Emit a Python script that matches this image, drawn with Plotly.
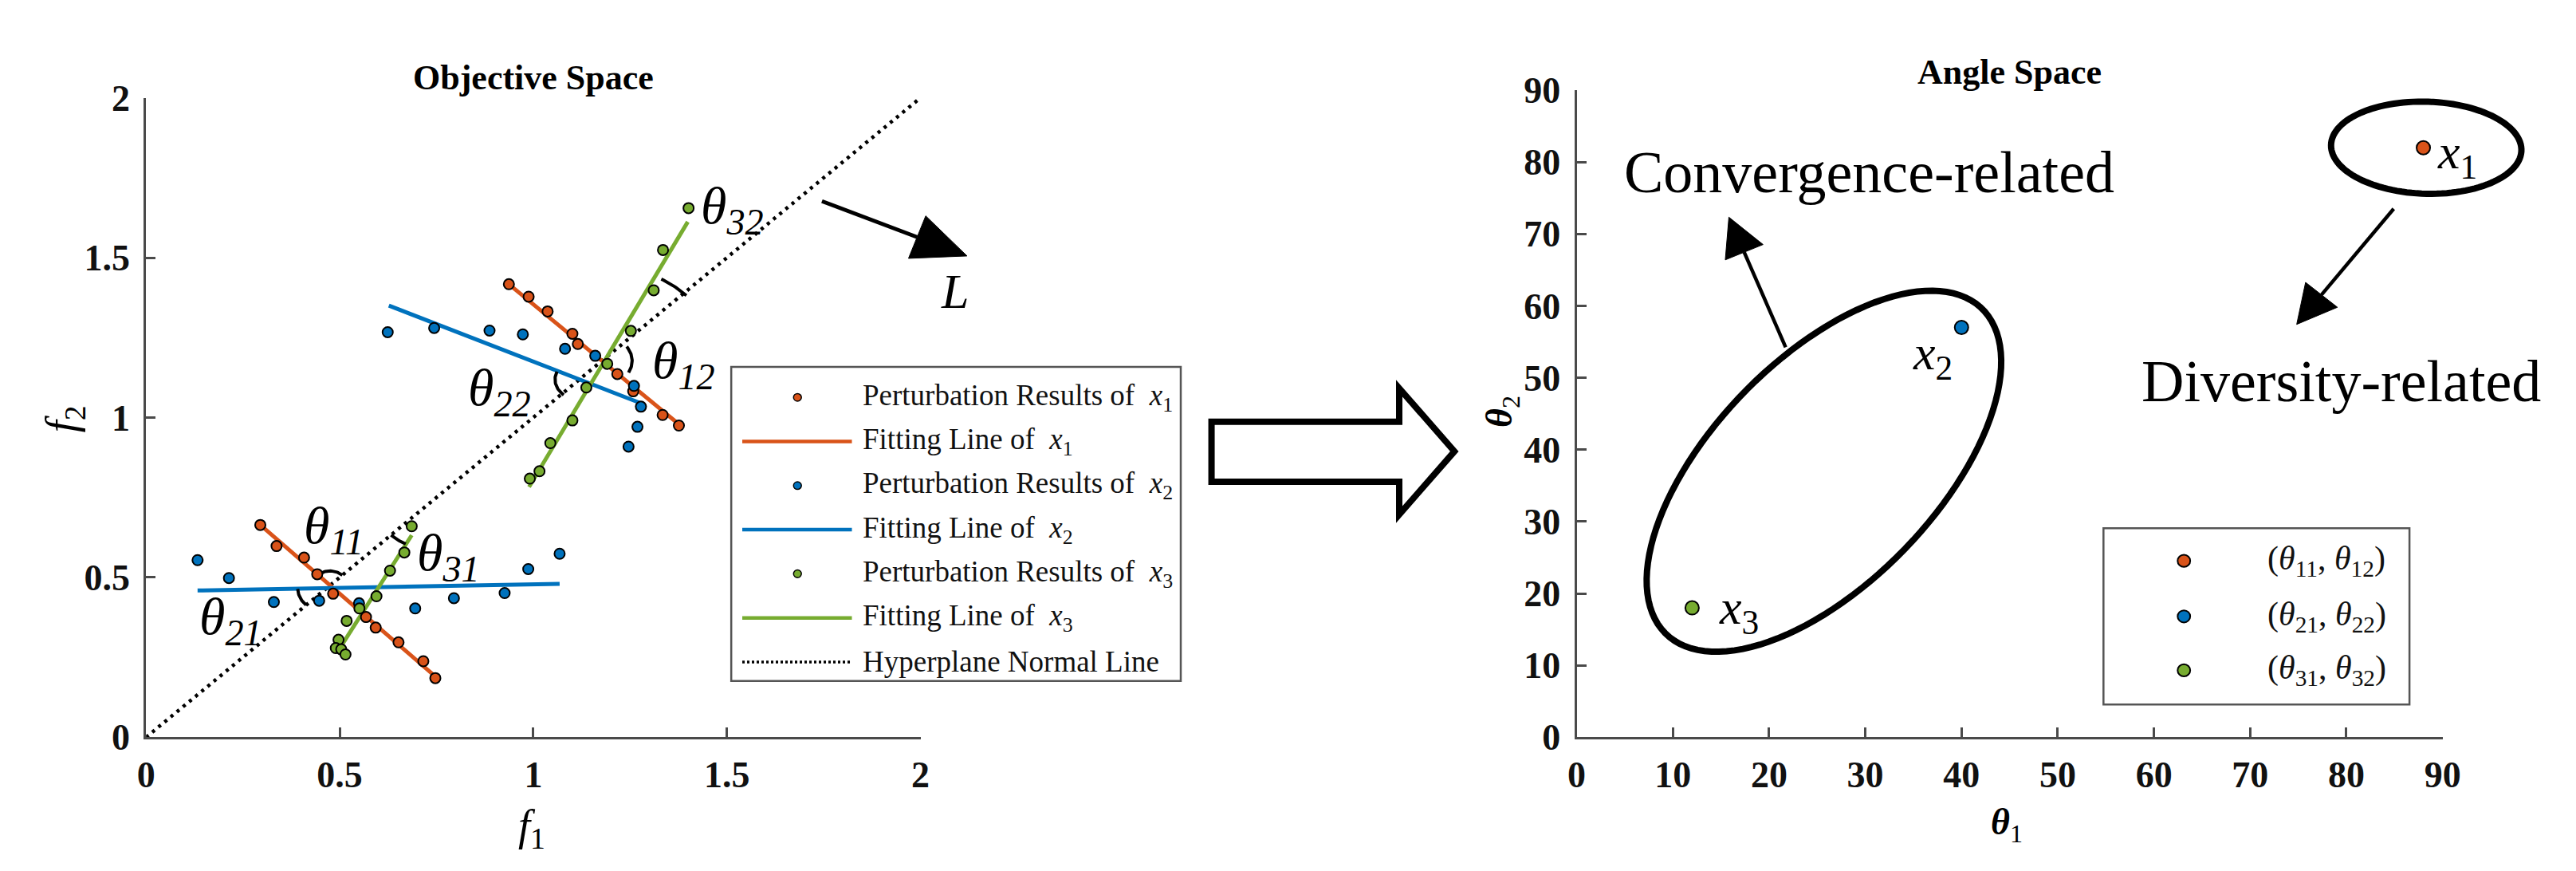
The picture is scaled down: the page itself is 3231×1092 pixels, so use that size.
import numpy as np
import plotly.graph_objects as go

PW, PH = 3231, 1092
OFF = 0
W, H = PW - 2 * OFF, PH - 2 * OFF
ORANGE, BLUE, GREEN = "#D95319", "#0072BD", "#77AC30"
SERIF = "Liberation Serif, Times New Roman, serif"
AXC = "#4a4a4a"

# ---------------- Left panel: Objective Space ----------------
x1_f1 = [0.295, 0.337, 0.408, 0.442, 0.483, 0.568, 0.593, 0.652, 0.716, 0.747,
         0.937, 0.988, 1.037, 1.101, 1.115, 1.217, 1.258, 1.334, 1.376]
x1_f2 = [0.664, 0.598, 0.562, 0.510, 0.449, 0.376, 0.343, 0.297, 0.238, 0.185,
         1.417, 1.378, 1.332, 1.262, 1.230, 1.136, 1.082, 1.008, 0.975]
x2_f1 = [0.133, 0.214, 0.330, 0.447, 0.550, 0.695, 0.795, 0.926, 0.987, 1.068,
         0.624, 0.744, 0.887, 0.973, 1.082, 1.160, 1.260, 1.278, 1.269, 1.246]
x2_f2 = [0.554, 0.498, 0.423, 0.427, 0.419, 0.403, 0.435, 0.451, 0.526, 0.574,
         1.267, 1.280, 1.272, 1.260, 1.215, 1.193, 1.099, 1.034, 0.971, 0.909]
x3_f1 = [0.497, 0.490, 0.504, 0.515, 0.518, 0.551, 0.595, 0.630, 0.667, 0.686,
         0.991, 1.016, 1.044, 1.101, 1.137, 1.191, 1.252, 1.311, 1.335, 1.401]
x3_f2 = [0.305, 0.279, 0.275, 0.259, 0.364, 0.403, 0.441, 0.521, 0.578, 0.660,
         0.809, 0.832, 0.920, 0.991, 1.094, 1.168, 1.271, 1.398, 1.524, 1.655]

# fitting-line end points (two fitted segments for each solution)
fit1_f1 = [0.295, 0.750, None, 0.937, 1.380]
fit1_f2 = [0.664, 0.187, None, 1.417, 0.975]
fit2_f1 = [0.133, 1.068, None, 0.627, 1.275]
fit2_f2 = [0.459, 0.480, None, 1.350, 1.046]
fit3_f1 = [0.507, 0.686, None, 0.989, 1.399]
fit3_f2 = [0.291, 0.632, None, 0.783, 1.612]
normal_f1 = [0, 2]
normal_f2 = [0, 2]

# ---------------- Right panel: Angle Space ----------------
theta1 = [88, 40, 12]
theta2 = [82, 57, 18]
point_labels = ["<i>x</i><sub>1</sub>", "<i>x</i><sub>2</sub>", "<i>x</i><sub>3</sub>"]
angle_legend = ["(<i>θ</i><sub>11</sub>, <i>θ</i><sub>12</sub>)",
                "(<i>θ</i><sub>21</sub>, <i>θ</i><sub>22</sub>)",
                "(<i>θ</i><sub>31</sub>, <i>θ</i><sub>32</sub>)"]

# ---------------- geometry (page pixels) ----------------
LX0, LX1, LY0, LY1 = 165, 1147, 94, 935
RX0, RX1, RY0, RY1 = 1979, 3077, 84, 935


def pap(px, py):
    return (px - OFF) / W, 1 - (py - OFF) / H


def rpx(x, y):
    return RX0 + x / 90 * (RX1 - RX0), RY1 - y / 90 * (RY1 - RY0)


fig = go.Figure()

# diagonal
fig.add_trace(go.Scatter(x=normal_f1, y=normal_f2, mode="lines",
                         line=dict(color="black", width=4.5, dash="4px,6px"),
                         xaxis="x", yaxis="y", hoverinfo="skip"))
for fx, fy, c in [(fit1_f1, fit1_f2, ORANGE), (fit2_f1, fit2_f2, BLUE), (fit3_f1, fit3_f2, GREEN)]:
    fig.add_trace(go.Scatter(x=fx, y=fy, mode="lines", line=dict(color=c, width=5),
                             xaxis="x", yaxis="y", connectgaps=False))

# angle arcs: centered at intersection of each fitted segment with the diagonal
arcs = [  # (fit index, segment, radius, start deg, end deg)
    (0, 0, 0.045, 45, 134),
    (1, 0, 0.075, 182, 225),
    (2, 0, 0.16, 225, 242),
    (0, 1, 0.078, -28, 35),
    (1, 1, 0.063, 157, 230),
    (2, 1, 0.28, 43, 60),
]
fits = [(fit1_f1, fit1_f2), (fit2_f1, fit2_f2), (fit3_f1, fit3_f2)]
for fi, seg, r, a0, a1 in arcs:
    fx, fy = fits[fi]
    i = seg * 3
    xa, xb, ya, yb = fx[i], fx[i + 1], fy[i], fy[i + 1]
    s = (yb - ya) / (xb - xa)
    xi = (ya - s * xa) / (1 - s)
    t = np.radians(np.linspace(a0, a1, 30))
    fig.add_trace(go.Scatter(x=xi + r * np.cos(t), y=xi + r * np.sin(t), mode="lines",
                             line=dict(color="black", width=4), xaxis="x", yaxis="y"))

for fx, fy, c in [(x1_f1, x1_f2, ORANGE), (x2_f1, x2_f2, BLUE), (x3_f1, x3_f2, GREEN)]:
    fig.add_trace(go.Scatter(x=fx, y=fy, mode="markers",
                             marker=dict(color=c, size=13, line=dict(color="black", width=2)),
                             xaxis="x", yaxis="y", cliponaxis=False))

# right panel points
fig.add_trace(go.Scatter(x=theta1, y=theta2, mode="markers",
                         marker=dict(color=[ORANGE, BLUE, GREEN], size=17,
                                     line=dict(color="black", width=2)),
                         xaxis="x2", yaxis="y2", cliponaxis=False))

shapes = []
annots = []


def ann(x, y, text, size, xref="paper", yref="paper", xanchor="center", yanchor="middle",
        angle=0, color="black"):
    if xref == "paper":
        x, y = pap(x, y)
    annots.append(dict(xref=xref, yref=yref, x=x, y=y, text=text, showarrow=False,
                       xanchor=xanchor, yanchor=yanchor, textangle=angle,
                       font=dict(family=SERIF, size=size, color=color)))


def path_of(points, close=True):
    pts = [pap(*p) for p in points]
    return "M " + " L ".join(f"{u:.5f},{v:.5f}" for u, v in pts) + (" Z" if close else "")


# ellipses in right panel
def ellipse(cx, cy, a, b, phi):
    t = np.linspace(0, 2 * np.pi, 120)
    p = np.radians(phi)
    xs = cx + a * np.cos(t) * np.cos(p) - b * np.sin(t) * np.sin(p)
    ys = cy + a * np.cos(t) * np.sin(p) + b * np.sin(t) * np.cos(p)
    return dict(type="path", xref="paper", yref="paper",
                path=path_of([rpx(x, y) for x, y in zip(xs, ys)]),
                line=dict(color="black", width=8))

shapes.append(ellipse(25.7, 37, 28.3, 13.0, 58.7))
shapes.append(ellipse(88.3, 82, 9.9, 6.4, -3))


def arrow(x0, y0, x1, y1, hl, hw, lw):
    d = np.array([x1 - x0, y1 - y0], float)
    u = d / np.hypot(*d)
    n = np.array([-u[1], u[0]])
    base = np.array([x1, y1]) - u * hl
    a = base + n * hw
    b = base - n * hw
    return [dict(type="path", xref="paper", yref="paper", path=path_of([(x0, y0), base], close=False),
                 line=dict(color="black", width=lw)),
            dict(type="path", xref="paper", yref="paper", path=path_of([(x1, y1), a, b]),
                 fillcolor="black", line=dict(color="black", width=1))]

shapes += arrow(1022, 230, 1206, 302, 68, 30, 5)
shapes += arrow(2244, 422, 2172, 251, 50, 26, 4.5)
shapes += arrow(3015, 240, 2892, 392, 50, 26, 4.5)

# big hollow arrow
hollow = [(1516, 520), (1754, 520), (1754, 476), (1824, 559), (1754, 642), (1754, 599), (1516, 599)]
shapes.append(dict(type="path", xref="paper", yref="paper", path=path_of(hollow),
                   line=dict(color="black", width=8)))

# left legend (manual)
bx0, by0, bx1, by1 = 907, 448, 1477, 861
(px0, py0), (px1, py1) = pap(bx0, by0), pap(bx1, by1)
shapes.append(dict(type="rect", xref="paper", yref="paper", x0=px0, y0=py0, x1=px1, y1=py1,
                   line=dict(color="#555555", width=2.5), fillcolor="white", layer="above"))
leg_rows = [488, 546, 604, 662, 720, 778, 836]
leg_items = [("m", ORANGE, "Perturbation Results of  <i>x</i><sub>1</sub>"),
             ("l", ORANGE, "Fitting Line of  <i>x</i><sub>1</sub>"),
             ("m", BLUE, "Perturbation Results of  <i>x</i><sub>2</sub>"),
             ("l", BLUE, "Fitting Line of  <i>x</i><sub>2</sub>"),
             ("m", GREEN, "Perturbation Results of  <i>x</i><sub>3</sub>"),
             ("l", GREEN, "Fitting Line of  <i>x</i><sub>3</sub>"),
             ("d", "black", "Hyperplane Normal Line")]
for yy, (kind, col, txt) in zip(leg_rows, leg_items):
    if kind == "m":
        r = 5
        (a0, b0), (a1, b1) = pap(991 - r, yy + r), pap(991 + r, yy - r)
        shapes.append(dict(type="circle", xref="paper", yref="paper", x0=a0, x1=a1, y0=b0, y1=b1,
                           fillcolor=col, line=dict(color="black", width=1.5)))
    else:
        ln = dict(color=col, width=4.5) if kind == "l" else dict(color=col, width=3.5, dash="3px,3px")
        shapes.append(dict(type="path", xref="paper", yref="paper",
                           path=path_of([(921, yy), (1060, yy)], close=False), line=ln))
    ann(1072, yy, txt, 37, xanchor="left", color="#111")

# right legend (manual)
cx0, cy0, cx1, cy1 = 2647, 660, 3035, 892
(px0, py0), (px1, py1) = pap(cx0, cy0), pap(cx1, cy1)
shapes.append(dict(type="rect", xref="paper", yref="paper", x0=px0, y0=py0, x1=px1, y1=py1,
                   line=dict(color="#555555", width=2.5), fillcolor="white", layer="above"))
for yy, col, txt in zip([703, 776, 847], [ORANGE, BLUE, GREEN], angle_legend):
    r = 8
    (a0, b0), (a1, b1) = pap(2749 - r, yy + r), pap(2749 + r, yy - r)
    shapes.append(dict(type="circle", xref="paper", yref="paper", x0=a0, x1=a1, y0=b0, y1=b1,
                       fillcolor=col, line=dict(color="black", width=2)))
    ann(2930, yy, txt, 42, color="#111")

# theta labels, left panel
theta_labels = [("<i>θ</i><sub><i>32</i></sub>", 1.513, 1.65), ("<i>θ</i><sub><i>12</i></sub>", 1.388, 1.167),
                ("<i>θ</i><sub><i>22</i></sub>", 0.913, 1.083), ("<i>θ</i><sub><i>11</i></sub>", 0.484, 0.65),
                ("<i>θ</i><sub><i>31</i></sub>", 0.78, 0.567), ("<i>θ</i><sub><i>21</i></sub>", 0.218, 0.367)]
for txt, x, y in theta_labels:
    ann(x, y, txt, 66, xref="x", yref="y")
ann(1190, 348, "<i>L</i>", 62)

# right panel point labels and texts
for txt, x, y, xa in zip(point_labels, [89.3, 37.0, 14.6], [81.0, 53.0, 17.6], ["left", "center", "left"]):
    ann(x, y, txt, 62, xref="x2", yref="y2", xanchor=xa)
ann(30.4, 78.6, "Convergence-related", 74, xref="x2", yref="y2")
ann(79.5, 49.5, "Diversity-related", 74, xref="x2", yref="y2")

# titles & axis labels
ann(656, 68, "<b>Objective Space</b>", 44)
ann(2528, 60, "<b>Angle Space</b>", 44)
ann(654, 1055, "<i>f</i><sub>1</sub>", 54)
ann(62, 516, "<i>f</i><sub>2</sub>", 54, angle=-90)
ann(2524, 1050, "<b><i>θ</i></b><sub>1</sub>", 46)
ann(1885, 507, "<b><i>θ</i></b><sub>2</sub>", 46, angle=-90)

tickfont = dict(family=SERIF, size=46, color="#111", weight="bold")
common = dict(showline=True, linecolor=AXC, linewidth=3, ticks="inside", ticklen=12, tickwidth=3,
              tickcolor=AXC, showgrid=False, zeroline=False, tickfont=tickfont, mirror=False)

(lx0, ly1p), (lx1, ly0p) = pap(LX0, LY1), pap(LX1, LY0)
(rx0, ry1p), (rx1, ry0p) = pap(RX0, RY1), pap(RX1, RY0)
fig.update_layout(
    width=W, height=H, margin=dict(l=0, r=0, t=0, b=0),
    paper_bgcolor="white", plot_bgcolor="white", showlegend=False,
    xaxis=dict(domain=[lx0, lx1], range=[0, 2], tickvals=[0, 0.5, 1, 1.5, 2],
               ticktext=["0", "0.5", "1", "1.5", "2"], anchor="y", ticklabelstandoff=4, **common),
    yaxis=dict(domain=[ly1p, ly0p], range=[0, 2], tickvals=[0, 0.5, 1, 1.5, 2],
               ticktext=["0", "0.5", "1", "1.5", "2"], anchor="x", ticklabelstandoff=8, **common),
    xaxis2=dict(domain=[rx0, rx1], range=[0, 90], tickvals=list(range(0, 91, 10)),
                anchor="y2", ticklabelstandoff=4, **common),
    yaxis2=dict(domain=[ry1p, ry0p], range=[0, 90], tickvals=list(range(0, 91, 10)),
                anchor="x2", ticklabelstandoff=8, **common),
    shapes=shapes, annotations=annots,
)

fig.write_html("out.html")
